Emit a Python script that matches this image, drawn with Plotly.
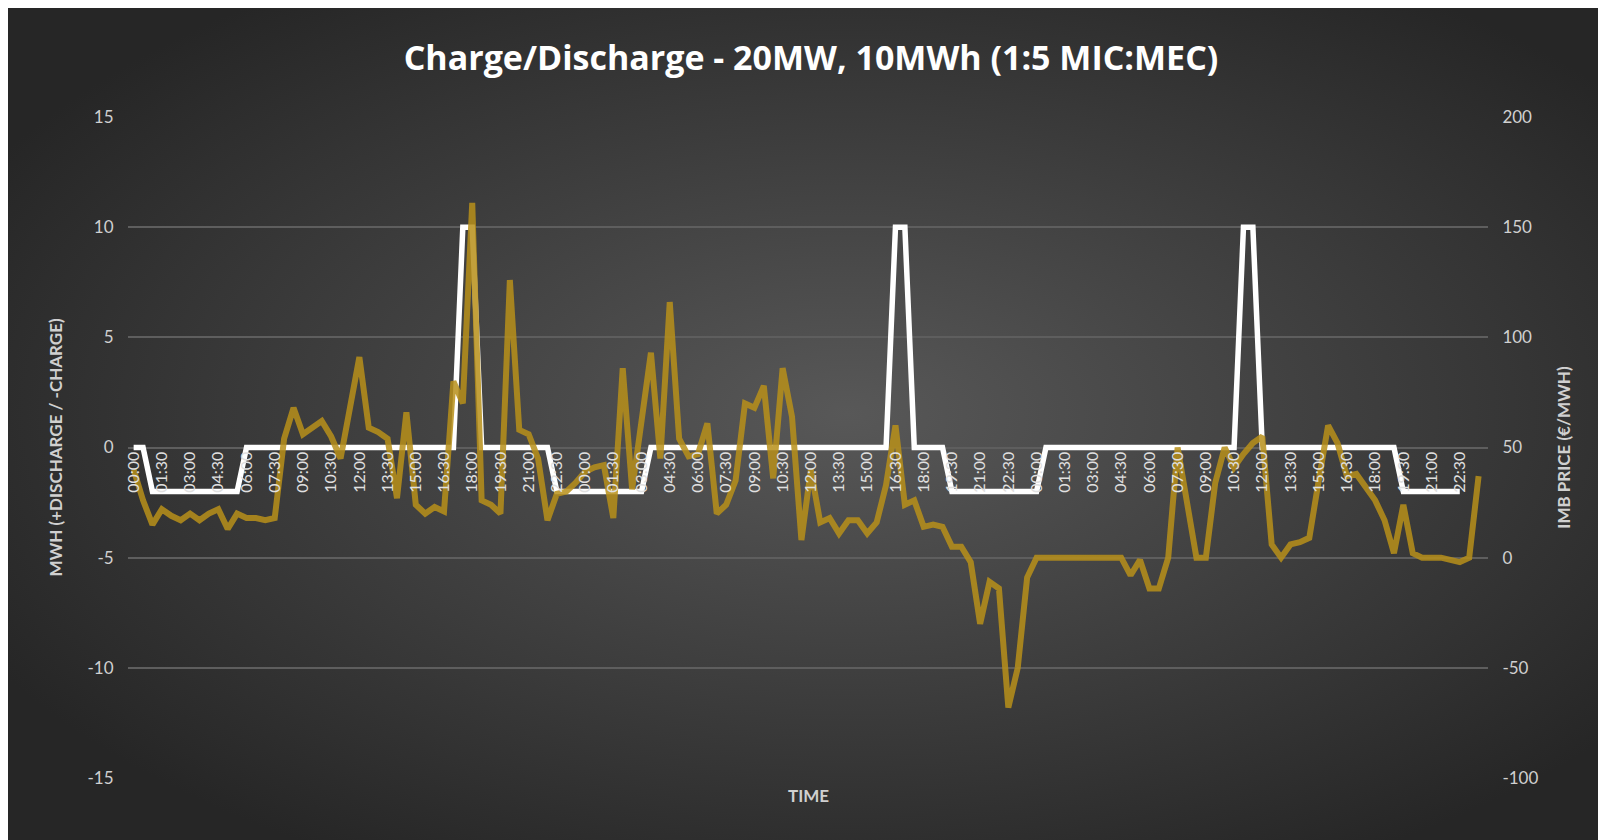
import plotly.graph_objects as go

# half-hour slots over three days
slot_labels = [f"{h:02d}:{m:02d}" for _ in range(3) for h in range(24) for m in (0, 30)]
slots = list(range(len(slot_labels)))

# battery charge (-) / discharge (+), MWh
charge_mwh = (
    [0, 0] + [-2] * 10 + [0] * 23 + [10, 10] + [0] * 8
    + [-2] * 10 + [0] * 26 + [10, 10] + [0] * 4
    + [-2] * 10 + [0] * 21 + [10, 10] + [0] * 15 + [-2] * 7
)

# imbalance price, EUR/MWh
imb_price = [
    40, 26, 15, 22, 19, 17, 20, 17, 20, 22, 13, 20, 18, 18, 17, 18,
    54, 68, 56, 59, 62, 55, 45, 68, 91, 59, 57, 54, 27, 66, 24, 20,
    23, 21, 80, 70, 161, 26, 24, 20, 126, 58, 56, 45, 17, 29, 30, 34,
    39, 41, 42, 18, 86, 31, 62, 93, 45, 116, 54, 46, 47, 61, 20, 24,
    35, 70, 68, 78, 36, 86, 64, 8, 40, 16, 18, 11, 17, 17, 11, 16,
    33, 60, 24, 26, 14, 15, 14, 5, 5, -2, -30, -11, -14, -68, -50, -9,
    0, 0, 0, 0, 0, 0, 0, 0, 0, 0, -8, -1, -14, -14, 0, 50,
    25, 0, 0, 34, 50, 41, 47, 52, 55, 6, 0, 6, 7, 9, 35, 60,
    52, 37, 38, 32, 26, 17, 2, 24, 2, 0, 0, 0, -1, -2, 0, 37,
]

tick_idx = slots[::3]
tick_txt = slot_labels[::3]
left_ticks = [-15, -10, -5, 0, 5, 10, 15]
right_ticks = [-100, -50, 0, 50, 100, 150, 200]

bg_svg = (
    "data:image/svg+xml;utf8,<svg xmlns='http://www.w3.org/2000/svg' width='1606' height='840' "
    "preserveAspectRatio='none'>"
    "<defs><radialGradient id='g' cx='52%' cy='48%' r='60%'>"
    "<stop offset='0' stop-color='%23585858'/><stop offset='1' stop-color='%23262626'/>"
    "</radialGradient></defs><rect width='1606' height='840' fill='url(%23g)'/></svg>"
)

grey = "#d0d0d0"
fig = go.Figure()
fig.add_trace(go.Scatter(x=slots, y=charge_mwh, mode="lines", name="Charge/Discharge",
                         line=dict(color="white", width=5.5)))
fig.add_trace(go.Scatter(x=slots, y=imb_price, mode="lines", name="IMB Price", yaxis="y2",
                         opacity=0.85, line=dict(color="#b8901a", width=6)))

fig.update_layout(
    width=1606, height=840,
    margin=dict(l=120, r=126, t=109, b=70),
    paper_bgcolor="#303030", plot_bgcolor="rgba(0,0,0,0)",
    showlegend=False,
    font=dict(family="Lato, sans-serif", color=grey, size=17),
    title=dict(text="<b>Charge/Discharge - 20MW, 10MWh (1:5 MIC:MEC)</b>", x=0.5, xanchor="center",
               y=0.955, font=dict(size=34, color="white", family="Open Sans, sans-serif")),
    images=[dict(source=bg_svg, xref="paper", yref="paper", x=-0.095, y=1.175, sizex=1.2,
                 sizey=1.3, sizing="stretch", layer="below", xanchor="left", yanchor="top")],
    xaxis=dict(range=[-0.6, 144], tickvals=tick_idx, ticktext=tick_txt, tickangle=-90,
               anchor="free", position=0.5, showgrid=False, zeroline=False, showline=False,
               ticks="", tickfont=dict(size=16, color="#e0e0e0")),
    yaxis=dict(range=[-15, 15], tickvals=left_ticks, ticktext=[str(v) for v in left_ticks],
               gridcolor="#5e5e5e", gridwidth=1.5, zeroline=False,
               ticks="outside", ticklen=10, tickcolor="rgba(0,0,0,0)",
               title=dict(text="<b>MWH (+DISCHARGE / -CHARGE)</b>", font=dict(size=17), standoff=20)),
    yaxis2=dict(range=[-100, 200], tickvals=right_ticks, ticktext=[str(v) for v in right_ticks],
                overlaying="y", side="right", showgrid=False,
                zeroline=False, ticks="outside", ticklen=10, tickcolor="rgba(0,0,0,0)",
                title=dict(text="<b>IMB PRICE (€/MWH)</b>", font=dict(size=17), standoff=20)),
    annotations=[dict(text="<b>TIME</b>", x=0.5, y=-0.045, xref="paper", yref="paper",
                      showarrow=False, font=dict(size=17, color=grey))],
)

fig.write_html("out.html")
